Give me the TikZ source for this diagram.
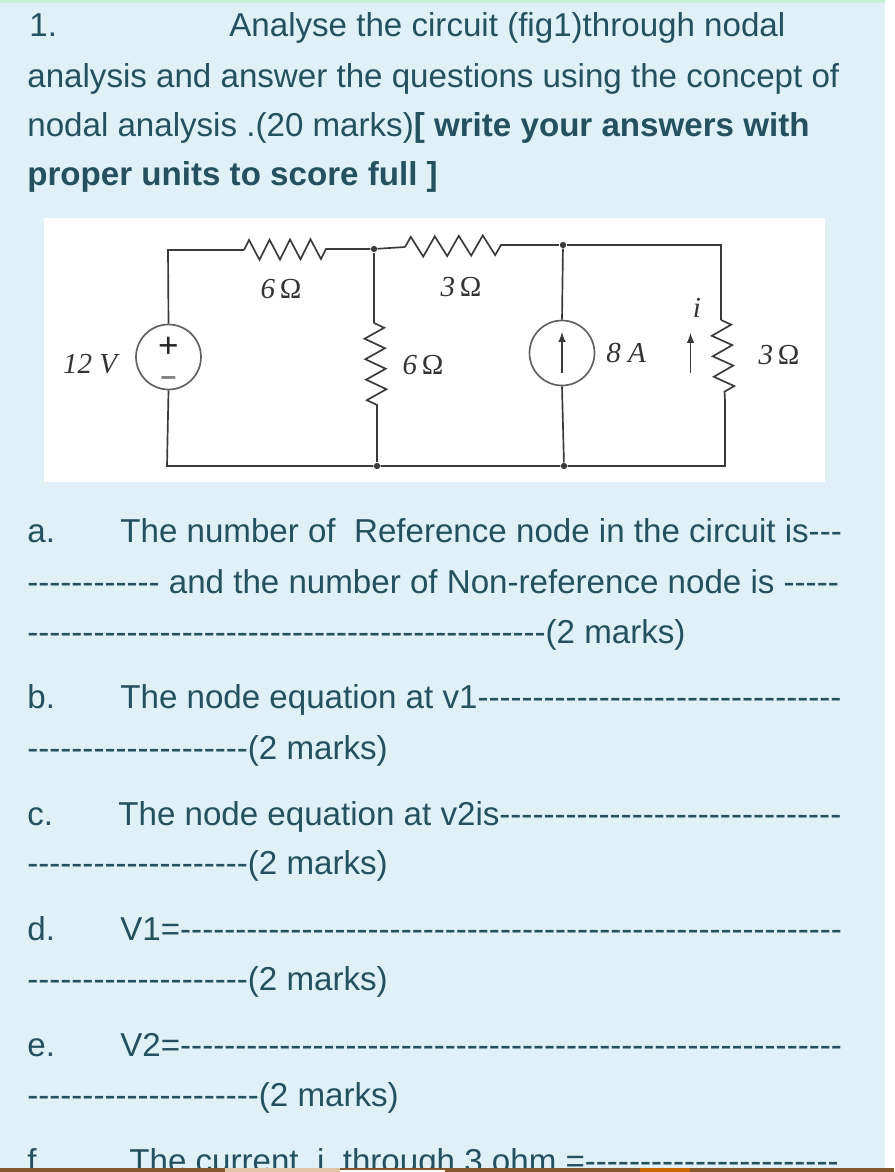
\documentclass[tikz,border=0pt]{standalone}
\usepackage{fontspec}
\setmainfont{Liberation Sans}[Ligatures=TeXOff]
\newfontfamily\cirfont{Liberation Serif}
\usetikzlibrary{decorations.pathmorphing}
\definecolor{pagebg}{HTML}{DFF0F7}
\definecolor{inktxt}{HTML}{24505F}
\definecolor{wirecol}{HTML}{3A3A3A}
\tikzset{
	txt/.style={anchor=base west, inner sep=0pt, text=inktxt, font=\fontsize{18.85}{20}\selectfont},
	val/.style={inner sep=0pt, text=black!80, font=\cirfont\fontsize{16.5}{18}\selectfont},
	wire/.style={draw=wirecol, line width=0.95pt},
	res/.style={wire, decorate, decoration={zigzag, segment length=0.41cm, amplitude=0.2cm}},
	reslong/.style={wire, decorate, decoration={zigzag, segment length=0.48cm, amplitude=0.2cm}},
	src/.style={circle, draw=wirecol!80, line width=0.95pt, minimum size=1.3cm, inner sep=0pt},
	dot/.style={circle, fill=wirecol, minimum size=3.6pt, inner sep=0pt},
}
\begin{document}
\begin{tikzpicture}[x=0.02cm, y=-0.02cm]
	\useasboundingbox (0,0) rectangle (894,1172);
	\fill[white] (0,0) rectangle (894,1172);
	\fill[pagebg] (0,0) rectangle (885,1172);
	\fill[green!12!pagebg] (0,0) rectangle (885,3);
	\fill[white] (44,218) rectangle (825,482);
	% heading
	\node[txt] (qnum) at (29,37) {1.};
	\node[txt] (qa) at (229,37) {Analyse the circuit (fig1)through nodal};
	\node[txt] (qb) at (27,88) {analysis and answer the questions using the concept of};
	\node[txt] (qc) at (27,137) {nodal analysis .(20 marks)\textbf{[ write your answers with}};
	\node[txt] (qd) at (27,186) {\textbf{proper units to score full ]}};
	% circuit
	\coordinate (lt) at (168,250);
	\coordinate (lb) at (167,466);
	\coordinate (rt) at (721,245);
	\coordinate (rb) at (725,466);
	\coordinate (r1a) at (244,250);
	\coordinate (r1b) at (328,249);
	\coordinate (r2a) at (405,247);
	\coordinate (r2b) at (502,245);
	\coordinate (r3a) at (374,323);
	\coordinate (r3b) at (377,405);
	\coordinate (r4a) at (721,320);
	\coordinate (r4b) at (725,401);
	\node[dot] (n1) at (374,249) {};
	\node[dot] (n2) at (563,245) {};
	\node[dot] (n3) at (377,466) {};
	\node[dot] (n4) at (564,466) {};
	\node[src] (vs) at (168.5,357) {};
	\node[src] (is) at (562,353) {};
	\draw[wire] (vs.north) -- (lt) -- (r1a);
	\draw[res] (r1a) -- (r1b);
	\draw[wire] (r1b) -- (n1) -- (r2a);
	\draw[reslong] (r2a) -- (r2b);
	\draw[wire] (r2b) -- (n2) -- (rt) -- (r4a);
	\draw[res] (r4a) -- (r4b);
	\draw[wire] (r4b) -- (rb) -- (n4) -- (n3) -- (lb) -- (vs.south);
	\draw[wire] (n1) -- (r3a);
	\draw[res] (r3a) -- (r3b);
	\draw[wire] (r3b) -- (n3);
	\draw[wire] (n2) -- (is.north);
	\draw[wire] (is.south) -- (n4);
	\coordinate (ia) at (562,373);
	\coordinate (ib) at (562,332);
	\coordinate (ja) at (690.5,373);
	\coordinate (jb) at (690.5,333);
	\draw[wire, -latex] (ia) -- (ib);
	\draw[wire, -latex] (ja) -- (jb);
	\node[inner sep=0pt, font=\fontsize{20}{22}\selectfont, text=black!85] (plus) at (168.5,347) {+};
	\node[inner sep=0pt, font=\bfseries\fontsize{16}{18}\selectfont, text=black!50] (minus) at (168.5,381) {–};
	\node[val] (l1) at (281,289) {\itshape 6\,\upshape Ω};
	\node[val] (l2) at (461,287) {\itshape 3\,\upshape Ω};
	\node[val] (l3) at (423,365) {\itshape 6\,\upshape Ω};
	\node[val] (l4) at (779,355) {\itshape 3\,\upshape Ω};
	\node[val] (l5) at (90,364) {\itshape 12 V};
	\node[val] (l6) at (626,353) {\itshape 8 A};
	\node[val] (l7) at (697,308) {\itshape i};
	% questions
	\node[txt] (an) at (27,542) {a.};
	\node[txt] (a1) at (120,542) {The number of \ Reference node in the circuit is---};
	\node[txt] (a2) at (27,593) {------------ and the number of Non-reference node is -----};
	\node[txt] (a3) at (27,643) {-----------------------------------------------(2 marks)};
	\node[txt] (bn) at (27,708) {b.};
	\node[txt] (b1) at (120,708) {The node equation at v1---------------------------------};
	\node[txt] (b2) at (27,759) {--------------------(2 marks)};
	\node[txt] (cn) at (27,825) {c.};
	\node[txt] (c1) at (118,825) {The node equation at v2is-------------------------------};
	\node[txt] (c2) at (27,874) {--------------------(2 marks)};
	\node[txt] (dn) at (27,940) {d.};
	\node[txt] (d1) at (120,940) {V1=------------------------------------------------------------};
	\node[txt] (d2) at (27,990) {--------------------(2 marks)};
	\node[txt] (en) at (27,1056) {e.};
	\node[txt] (e1) at (120,1056) {V2=------------------------------------------------------------};
	\node[txt] (e2) at (27,1106) {---------------------(2 marks)};
	\node[txt] (fn) at (27,1172) {f.};
	\node[txt] (f1) at (129,1172) {The current \ i \ through 3 ohm =-----------------------};
	% strip along the foot
	\fill[brown!70!black] (0,1168) rectangle (894,1172);
	\fill[brown!45!white] (225,1168) rectangle (340,1172);
	\fill[white] (340,1169.5) rectangle (445,1172);
	\fill[orange!80!black] (640,1168) rectangle (690,1172);
\end{tikzpicture}
\end{document}
